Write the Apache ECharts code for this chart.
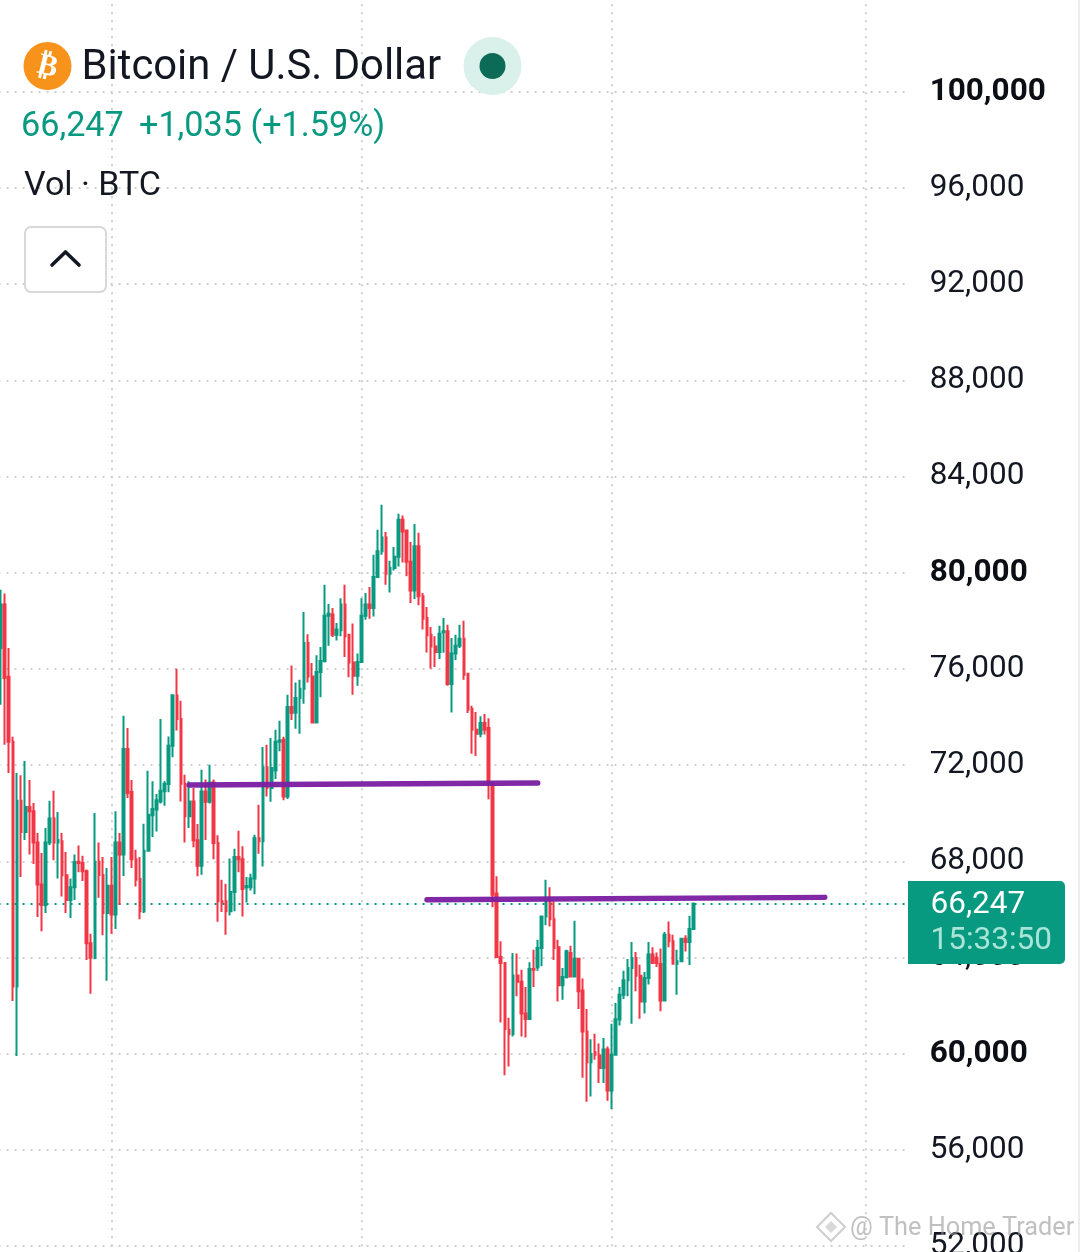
<!DOCTYPE html>
<html>
<head>
<meta charset="utf-8">
<style>html,body{margin:0;padding:0;background:#fff}#c{width:1080px;height:1252px}</style>
<script src="https://cdn.jsdelivr.net/npm/echarts@6/dist/echarts.min.js"></script>
</head>
<body>
<div id="c"></div>
<script>
// prices in thousands of USD
const opens = [76.9,78.71,75.7,73.0,62.8,70.54,69.24,70.28,70.1,68.8,67.05,66.2,68.8,69.8,68.8,68.85,67.43,66.4,66.94,68.0,67.95,67.6,64.6,64.0,68.0,67.45,65.86,67.0,65.8,68.8,68.3,72.7,70.9,68.1,67.28,65.93,68.46,69.93,70.17,70.51,70.93,71.24,72.83,74.92,73.94,71.25,69.89,70.51,68.89,67.83,70.92,70.5,71.3,68.78,66.35,66.35,65.93,66.74,68.2,68.1,66.93,66.93,67.3,68.98,68.85,71.93,71.07,71.8,73.0,73.08,70.72,74.44,74.2,74.82,75.2,77.11,75.72,73.8,75.9,76.36,78.25,78.3,77.46,77.64,78.71,77.46,76.3,75.75,76.32,78.25,78.71,78.57,79.86,80.93,81.51,80.0,80.24,80.7,82.25,81.8,80.5,79.3,81.14,79.06,78.15,77.46,76.97,76.74,77.56,77.6,75.4,76.67,77.0,77.29,75.83,74.36,73.5,73.33,73.78,73.57,71.28,66.67,64.03,63.78,61.0,60.82,63.26,63.0,61.67,61.45,63.53,63.6,64.4,65.72,66.35,65.6,64.44,62.85,63.2,64.2,63.22,63.96,62.63,60.93,59.64,60.06,59.92,59.4,60.17,58.47,59.96,61.42,62.46,63.06,63.57,63.99,63.25,62.18,63.15,64.13,64.0,63.74,62.22,64.96,64.68,63.75,63.85,64.79,64.65,65.2];
const closes = [78.71,75.65,73.0,62.8,70.54,69.24,70.28,70.1,68.8,67.05,66.2,68.8,69.8,68.8,68.9,67.43,66.4,66.94,67.99,67.95,67.6,64.6,64.0,68.0,67.45,65.86,67.0,65.8,68.8,68.3,72.7,70.86,68.1,67.25,65.93,68.46,69.96,70.2,70.56,70.96,71.25,72.83,74.93,73.94,71.25,69.89,70.51,68.89,67.83,70.92,70.5,71.3,68.78,66.35,66.3,65.93,66.74,68.2,68.1,66.86,66.99,67.3,68.98,68.85,71.93,71.07,71.9,73.0,73.05,70.72,74.44,74.2,74.82,75.2,77.11,75.72,73.8,75.9,76.36,78.25,78.33,77.46,77.67,78.71,77.39,76.3,75.75,76.32,78.25,78.71,78.57,79.86,80.93,81.51,80.0,80.24,80.7,82.25,81.76,80.5,79.3,81.14,79.06,78.125,77.43,76.97,76.74,77.5,77.6,75.4,76.67,77.0,77.29,75.79,74.33,73.5,73.33,73.78,73.5,71.28,66.625,64.03,63.78,61.03,60.82,63.26,63.0,61.67,61.45,63.53,63.5,64.4,65.72,66.35,65.6,64.4,62.85,63.2,64.27,63.22,63.96,62.6,60.93,59.64,59.99,59.96,59.4,60.17,58.47,59.96,61.44,62.46,63.06,63.57,63.99,63.25,62.18,63.15,64.13,63.78,63.78,62.22,64.96,64.68,63.75,63.85,64.79,64.65,65.2,66.247];
const lows = [74.54,72.87,71.7,62.2,59.9,67.36,68.9,68.3,67.9,65.7,65.1,65.86,68.7,68.06,67.3,66.55,65.86,65.65,66.4,67.56,67.2,63.9,62.5,63.94,66.5,64.93,63.04,65.0,65.2,66.2,67.4,70.65,67.74,66.97,65.6,65.86,68.43,69.03,69.26,70.42,70.33,70.89,72.35,73.47,70.51,68.8,69.4,68.6,67.39,67.46,68.9,70.42,68.1,65.5,65.9,64.96,65.76,65.93,67.56,65.72,66.3,66.8,66.64,68.33,67.8,70.72,70.5,71.45,72.6,70.56,70.61,73.9,73.54,73.33,74.58,75.47,73.8,73.8,74.85,76.3,77.0,77.36,77.22,77.39,76.53,75.68,74.96,75.33,76.3,78.08,78.12,78.22,79.82,80.79,79.54,79.22,80.13,80.3,80.47,79.89,78.78,78.94,78.68,77.67,76.72,76.04,76.11,76.44,76.7,75.33,74.22,76.4,76.9,75.58,74.19,72.5,72.4,73.18,73.3,70.6,66.1,64.03,61.3,59.1,59.47,60.72,62.39,60.72,60.68,61.45,62.78,63.46,63.64,65.35,65.3,63.9,62.18,62.25,63.13,63.22,63.22,61.86,59.0,58.0,58.22,59.75,58.78,58.78,58.04,57.7,59.96,61.18,62.28,62.39,61.25,62.6,61.46,61.67,62.88,63.78,63.61,61.77,62.22,64.44,63.74,62.46,63.85,64.26,63.7,65.17];
const highs = [79.33,79.17,76.9,73.2,71.7,71.6,72.2,71.4,70.45,69.2,68.36,69.4,70.54,70.96,70.07,69.2,68.4,67.3,68.3,68.67,68.25,67.67,65.0,70.03,68.8,68.2,67.74,68.2,70.1,69.2,74.08,73.57,71.4,68.5,68.2,69.58,71.79,71.35,70.82,73.94,71.35,73.22,74.93,76.04,74.7,71.62,71.35,71.07,69.57,71.83,71.42,72.04,71.42,69.1,67.25,67.08,68.13,68.54,69.29,68.64,67.36,67.5,69.12,70.37,72.78,72.87,73.15,73.5,73.87,73.2,74.96,76.17,75.47,75.58,78.4,77.48,76.28,76.6,76.94,79.54,78.74,78.57,77.94,78.98,79.54,77.48,77.92,76.67,78.98,79.19,79.44,80.79,81.83,82.87,81.74,80.54,81.11,82.5,82.42,81.83,81.32,82.07,81.7,79.19,78.61,77.78,77.39,77.83,78.15,77.87,77.32,77.46,77.87,78.04,75.86,74.5,74.24,74.06,74.15,73.98,71.3,67.39,64.68,63.8,61.5,64.2,64.17,63.5,62.78,63.81,64.33,64.75,65.72,67.25,66.94,66.35,64.75,63.57,64.33,64.5,65.54,63.96,63.13,61.86,60.6,60.83,60.42,60.65,60.3,61.25,62.11,62.78,63.46,63.95,64.65,64.24,63.71,63.4,64.65,64.44,64.22,64.38,65.07,65.51,64.96,64.33,64.82,64.93,65.75,66.3];

const slotCount = 221;                       // candles plus the empty space on the right
const categories = Array.from({length: slotCount}, (_, i) => String(i));
const boldTicks = [100000, 80000, 60000];
const hiddenTicks = [104000, 48000];
const lastPrice = 66247;
const verticalGridAt = [27, 88, 149, 211];   // candle slots carrying a dotted vertical
const purpleLineA = [[46, 71170], [131, 71260]];
const purpleLineB = [[104, 66400], [201, 66500]];

const GREEN = '#089981', RED = '#F23645', PURPLE = '#7B1FA2', INK = '#131722';
const FONT = 'Roboto, sans-serif';

// readings were taken against a slightly coarse ruler; 0.998 recalibrates them to the axis
const usd = k => 60000 + (k - 60) * 998;
const candleData = opens.map((o, i) => [usd(o), usd(closes[i]), usd(lows[i]), usd(highs[i])]);

const chart = echarts.init(document.getElementById('c'), null, {renderer: 'canvas'});
chart.setOption({
  animation: false,
  backgroundColor: '#ffffff',
  grid: {left: -1.45, width: 906.1, top: -4.5, height: 1346.8, containLabel: false, outerBoundsMode: 'none'},
  xAxis: {
    type: 'category', data: categories, boundaryGap: true,
    axisLine: {show: false}, axisTick: {show: false}, axisLabel: {show: false}, splitLine: {show: false}
  },
  yAxis: {
    type: 'value', position: 'right', min: 48000, max: 104000, interval: 4000,
    axisLine: {show: false}, axisTick: {show: false},
    splitLine: {show: true, lineStyle: {color: '#cfcfcf', width: 2, type: [2, 6]}},
    axisLabel: {
      margin: 25, align: 'left',
      formatter: v => {
        if (hiddenTicks.includes(v)) return '';
        const t = Number(v).toLocaleString('en-US');
        return boldTicks.includes(v) ? '{b|' + t + '}' : '{n|' + t + '}';
      },
      rich: {
        n: {fontFamily: FONT, fontSize: 31.5, color: INK},
        b: {fontFamily: FONT, fontSize: 31.5, fontWeight: 'bold', color: '#0b0e14'}
      }
    }
  },
  series: [
    {
      type: 'line', data: [], z: 1, silent: true,
      markLine: {
        silent: true, symbol: 'none', animation: false, z: 1, label: {show: false},
        lineStyle: {color: '#cfcfcf', width: 2, type: [2, 6]},
        data: verticalGridAt.map(i => ({xAxis: categories[i]}))
      }
    },
    {
      type: 'line', data: [], z: 2, silent: true,
      markLine: {
        silent: true, symbol: 'none', animation: false, z: 2, label: {show: false},
        lineStyle: {color: GREEN, width: 2, type: [2, 6]},
        data: [{yAxis: lastPrice}]
      }
    },
    {
      type: 'candlestick', z: 3, silent: true, barWidth: 2.2,
      data: candleData,
      itemStyle: {color: GREEN, color0: RED, borderColor: GREEN, borderColor0: RED, borderWidth: 2}
    },
    {
      type: 'line', z: 5, silent: true, symbol: 'none', data: purpleLineA,
      lineStyle: {color: PURPLE, width: 5.5, cap: 'round', opacity: 0.96}
    },
    {
      type: 'line', z: 5, silent: true, symbol: 'none', data: purpleLineB,
      lineStyle: {color: PURPLE, width: 5.5, cap: 'round', opacity: 0.96}
    }
  ],
  graphic: [
    // right edge
    {type: 'rect', z: 50, shape: {x: 1078, y: 0, width: 2, height: 1252}, style: {fill: '#ececec'}},
    // symbol header
    {type: 'circle', z: 50, shape: {cx: 47.5, cy: 66, r: 24}, style: {fill: '#F7931A'}},
    {type: 'text', z: 51, x: 47.5, y: 67, rotation: -0.24,
      style: {text: '₿', font: 'bold 30px "DejaVu Sans"', fill: '#fff', align: 'center', verticalAlign: 'middle'}},
    {type: 'text', z: 50, x: 81.5, y: 69, style: {text: 'Bitcoin / U.S. Dollar', font: '41.8px ' + FONT, fill: INK, verticalAlign: 'middle'}},
    {type: 'circle', z: 50, shape: {cx: 492.5, cy: 66, r: 29}, style: {fill: '#DAF0EB'}},
    {type: 'circle', z: 51, shape: {cx: 492.5, cy: 66, r: 13}, style: {fill: '#0B6B57'}},
    {type: 'text', z: 50, x: 21, y: 127, style: {text: '66,247', font: '34.2px ' + FONT, fill: GREEN, verticalAlign: 'middle'}},
    {type: 'text', z: 50, x: 139, y: 127, style: {text: '+1,035 (+1.59%)', font: '34.2px ' + FONT, fill: GREEN, verticalAlign: 'middle'}},
    {type: 'text', z: 50, x: 24, y: 186, style: {text: 'Vol · BTC', font: '34px ' + FONT, fill: INK, verticalAlign: 'middle'}},
    // collapse button
    {type: 'rect', z: 50, shape: {x: 25, y: 227, width: 81, height: 65, r: 6}, style: {fill: '#fff', stroke: '#d8d8d8', lineWidth: 2}},
    {type: 'polyline', z: 51, shape: {points: [[52, 265], [65.5, 252], [79, 265]]}, style: {fill: 'none', stroke: '#131722', lineWidth: 3.6, lineCap: 'round', lineJoin: 'round'}},
    // last price tag
    {type: 'rect', z: 60, shape: {x: 908, y: 881, width: 157, height: 83, r: [0, 5, 5, 0]}, style: {fill: GREEN}},
    {type: 'text', z: 61, x: 930.5, y: 905, style: {text: '66,247', font: '31.5px ' + FONT, fill: '#fff', verticalAlign: 'middle'}},
    {type: 'text', z: 61, x: 930.5, y: 941, style: {text: '15:33:50', font: '31.5px ' + FONT, fill: '#A9E5D6', verticalAlign: 'middle'}},
    // watermark
    {type: 'polygon', z: 70, shape: {points: [[831, 1213], [845, 1227], [831, 1241], [817, 1227]]}, style: {fill: 'rgba(255,255,255,0.55)', stroke: 'rgba(190,190,190,0.75)', lineWidth: 2}},
    {type: 'polygon', z: 71, shape: {points: [[831, 1221], [837, 1227], [831, 1233], [825, 1227]]}, style: {fill: 'rgba(190,190,190,0.6)'}},
    {type: 'text', z: 70, x: 850, y: 1229, style: {text: '@ The Home Trader', font: '25.3px ' + FONT, fill: 'rgba(150,150,150,0.6)', verticalAlign: 'middle'}}
  ]
});
</script>
</body>
</html>
